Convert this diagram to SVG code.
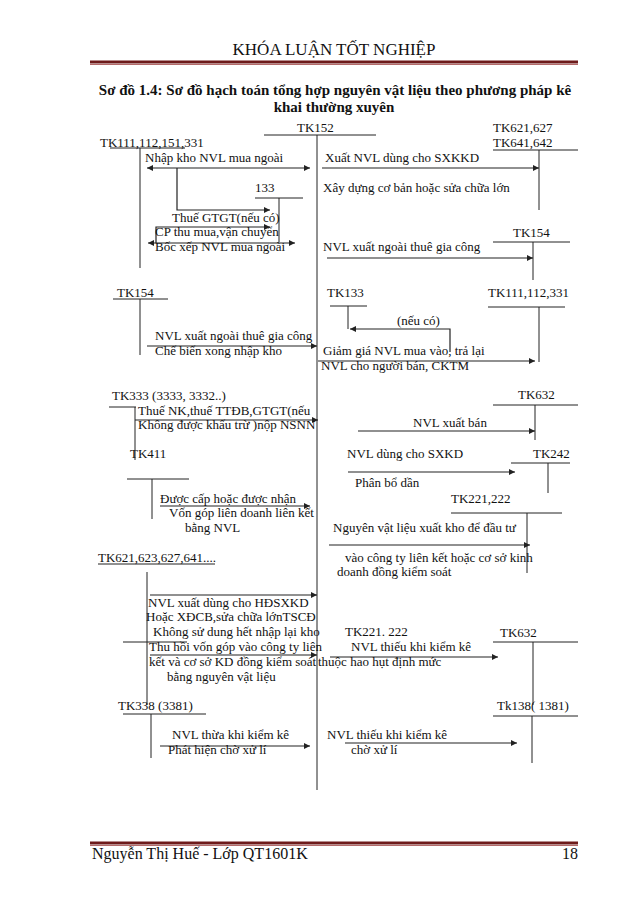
<svg xmlns="http://www.w3.org/2000/svg" width="638" height="902" viewBox="0 0 638 902">
<defs>
<style>
.t{font-family:"Liberation Serif","Times New Roman",serif;font-size:13px;fill:#111}
.h{font-family:"Liberation Serif","Times New Roman",serif;font-size:17px;fill:#111}
.b{font-family:"Liberation Serif","Times New Roman",serif;font-size:15px;font-weight:bold;fill:#111}
.f{font-family:"Liberation Serif","Times New Roman",serif;font-size:16px;fill:#111}
.l{stroke:#222;stroke-width:1;fill:none}
.a{stroke:#222;stroke-width:1.2;fill:none;marker-end:url(#ah)}
.d{stroke:#222;stroke-width:1.2;fill:none;marker-end:url(#ah);marker-start:url(#ah)}
</style>
<marker id="ah" viewBox="0 0 10 10" refX="10" refY="5" markerWidth="8" markerHeight="6" markerUnits="userSpaceOnUse" orient="auto-start-reverse">
<path d="M0,0 L10,5 L0,10 z" fill="#222"/>
</marker>
</defs>
<rect width="638" height="902" fill="#fff"/>

<g id="header">
<text class="h" x="334" y="55" text-anchor="middle">KHÓA LUẬN TỐT NGHIỆP</text>
<line x1="90" y1="62" x2="578" y2="62" stroke="#6e1b1b" stroke-width="3"/>
<line x1="90" y1="64.5" x2="578" y2="64.5" stroke="#b46a6a" stroke-width="1"/>
<text class="b" x="335" y="95" text-anchor="middle">Sơ đồ 1.4: Sơ đồ hạch toán tổng hợp nguyên vật liệu theo phương pháp kê</text>
<text class="b" x="334" y="112" text-anchor="middle">khai thường xuyên</text>
</g>

<g id="tk152">
<text class="t" x="297" y="132">TK152</text>
<line class="l" x1="264" y1="135" x2="376" y2="135"/>
<line class="l" x1="317" y1="135" x2="317" y2="790"/>
</g>

<g id="tk111-112-151-331">
<text class="t" x="100" y="147">TK111,112,151,331</text>
<line class="l" x1="110" y1="148" x2="185" y2="148"/>
<line class="l" x1="140" y1="148" x2="140" y2="268"/>
</g>

<g id="tk621-627-641-642">
<text class="t" x="493" y="132">TK621,627</text>
<text class="t" x="493" y="147">TK641,642</text>
<line class="l" x1="493" y1="150" x2="578" y2="150"/>
<line class="l" x1="539" y1="150" x2="539" y2="210"/>
</g>

<g id="tk133-top">
<text class="t" x="255" y="192">133</text>
<line class="l" x1="255" y1="198" x2="303" y2="198"/>
<line class="l" x1="279" y1="198" x2="279" y2="242"/>
</g>

<g id="tk154-right">
<text class="t" x="513" y="237">TK154</text>
<line class="l" x1="493" y1="242" x2="570" y2="242"/>
<line class="l" x1="533" y1="242" x2="533" y2="280"/>
</g>

<g id="tk154-left">
<text class="t" x="117" y="297">TK154</text>
<line class="l" x1="113" y1="299" x2="168" y2="299"/>
<line class="l" x1="140" y1="299" x2="140" y2="355"/>
</g>

<g id="tk133">
<text class="t" x="327" y="297">TK133</text>
<line class="l" x1="330" y1="306" x2="367" y2="306"/>
<line class="l" x1="348" y1="306" x2="348" y2="329"/>
</g>

<g id="tk111-112-331">
<text class="t" x="488" y="297">TK111,112,331</text>
<line class="l" x1="488" y1="307" x2="565" y2="307"/>
<line class="l" x1="539" y1="307" x2="539" y2="362"/>
</g>

<g id="tk333">
<text class="t" x="112" y="400">TK333 (3333, 3332..)</text>
<line class="l" x1="109" y1="407" x2="136" y2="407"/>
<line class="l" x1="135" y1="407" x2="135" y2="460"/>
</g>

<g id="tk632-a">
<text class="t" x="518" y="399">TK632</text>
<line class="l" x1="493" y1="405" x2="578" y2="405"/>
<line class="l" x1="535" y1="405" x2="535" y2="440"/>
</g>

<g id="tk411">
<text class="t" x="130" y="458">TK411</text>
<line class="l" x1="127" y1="479" x2="189" y2="479"/>
<line class="l" x1="152" y1="479" x2="152" y2="519"/>
</g>

<g id="tk242">
<text class="t" x="533" y="458">TK242</text>
<line class="l" x1="511" y1="463" x2="570" y2="463"/>
<line class="l" x1="548" y1="463" x2="548" y2="493"/>
</g>

<g id="tk221-222">
<text class="t" x="451" y="503">TK221,222</text>
<line class="l" x1="451" y1="513" x2="562" y2="513"/>
<line class="l" x1="527" y1="513" x2="527" y2="573"/>
</g>

<g id="tk621-623-627-641">
<text class="t" x="98" y="562">TK621,623,627,641....</text>
<line class="l" x1="98" y1="564" x2="215" y2="564"/>
<line class="l" x1="147" y1="572" x2="147" y2="705"/>
<line class="l" x1="123" y1="642" x2="187" y2="642"/>
</g>

<g id="tk221-222-b">
<text class="t" x="345" y="636">TK221. 222</text>
</g>

<g id="tk632-b">
<text class="t" x="500" y="637">TK632</text>
<line class="l" x1="493" y1="642" x2="578" y2="642"/>
<line class="l" x1="533" y1="642" x2="533" y2="705"/>
</g>

<g id="tk338">
<text class="t" x="118" y="710">TK338 (3381)</text>
<line class="l" x1="123" y1="714" x2="206" y2="714"/>
<line class="l" x1="151" y1="714" x2="151" y2="758"/>
</g>

<g id="tk138">
<text class="t" x="497" y="710">Tk138( 1381)</text>
<line class="l" x1="493" y1="716" x2="578" y2="716"/>
<line class="l" x1="532" y1="716" x2="532" y2="763"/>
</g>

<g id="connectors">
<path class="d" d="M147,168 L310,168"/>
<path class="a" d="M322,168 L539,168"/>
<path class="a" d="M177,168 L177,210 L270,210"/>
<path class="a" d="M156,243 L156,227 L270,227"/>
<path class="d" d="M148,243 L295,243"/>
<path class="a" d="M327,258 L533,258"/>
<path class="a" d="M450,352 L450,329 L350,329"/>
<path class="a" d="M147,346 L317,346"/>
<path class="a" d="M318,361 L535,361"/>
<path class="a" d="M135,420 L318,420"/>
<path class="a" d="M358,431 L535,431"/>
<path class="a" d="M348,472 L515,472"/>
<path class="a" d="M160,506 L310,506"/>
<path class="a" d="M329,545 L530,545"/>
<path class="a" d="M150,595 L317,595"/>
<path class="a" d="M150,655 L317,655"/>
<path class="a" d="M330,657 L498,657"/>
<path class="a" d="M160,746 L310,746"/>
<path class="a" d="M345,743 L517,743"/>
</g>

<g id="labels">
<text class="t" x="145" y="162">Nhập kho NVL mua ngoài</text>
<text class="t" x="325" y="162">Xuất NVL dùng cho SXKKD</text>
<text class="t" x="323" y="192">Xây dựng cơ bản hoặc sửa chữa lớn</text>
<text class="t" x="172" y="222">Thuế GTGT(nếu có)</text>
<text class="t" x="155" y="236">CP thu mua,vận chuyển</text>
<text class="t" x="155" y="251">Bốc xếp NVL mua ngoài</text>
<text class="t" x="323" y="251">NVL xuất ngoài thuê gia công</text>
<text class="t" x="397" y="325">(nếu có)</text>
<text class="t" x="155" y="340">NVL xuất ngoài thuê gia công</text>
<text class="t" x="155" y="355">Chế biến xong nhập kho</text>
<text class="t" x="323" y="355">Giảm giá NVL mua vào, trả lại</text>
<text class="t" x="321" y="370">NVL cho người bán, CKTM</text>
<text class="t" x="138" y="415">Thuế NK,thuế TTĐB,GTGT(nếu</text>
<text class="t" x="138" y="429">Không được khấu trừ )nộp NSNN</text>
<text class="t" x="413" y="427">NVL xuất bán</text>
<text class="t" x="347" y="458">NVL dùng cho SXKD</text>
<text class="t" x="355" y="487">Phân bổ dần</text>
<text class="t" x="160" y="503">Được cấp hoặc được nhận</text>
<text class="t" x="169" y="517">Vốn góp liên doanh liên kết</text>
<text class="t" x="185" y="532">bằng NVL</text>
<text class="t" x="333" y="532">Nguyên vật liệu xuất kho để đầu tư</text>
<text class="t" x="345" y="562">vào công ty liên kết hoặc cơ sở kinh</text>
<text class="t" x="337" y="576">doanh đồng kiểm soát</text>
<text class="t" x="148" y="607">NVL xuất dùng cho HĐSXKD</text>
<text class="t" x="146" y="621">Hoặc XĐCB,sửa chữa lớnTSCĐ</text>
<text class="t" x="153" y="636">Không sử dung hết nhập lại kho</text>
<text class="t" x="149" y="651">Thu hồi vốn góp vào công ty liên</text>
<text class="t" x="351" y="651">NVL thiếu khi kiểm kê</text>
<text class="t" x="149" y="666">kết và cơ sở KD đồng kiểm soát</text>
<text class="t" x="318" y="666">thuộc hao hụt định mức</text>
<text class="t" x="167" y="681">bằng nguyên vật liệu</text>
<text class="t" x="172" y="739">NVL thừa khi kiểm kê</text>
<text class="t" x="168" y="754">Phát hiện chờ xử lí</text>
<text class="t" x="327" y="739">NVL thiếu khi kiểm kê</text>
<text class="t" x="351" y="754">chờ xử lí</text>
</g>

<g id="footer">
<line x1="90" y1="843" x2="578" y2="843" stroke="#6e1b1b" stroke-width="3"/>
<line x1="90" y1="845.5" x2="578" y2="845.5" stroke="#b46a6a" stroke-width="1"/>
<text class="f" x="92" y="859">Nguyễn Thị Huế - Lớp QT1601K</text>
<text class="f" x="578" y="859" text-anchor="end">18</text>
</g>
</svg>
